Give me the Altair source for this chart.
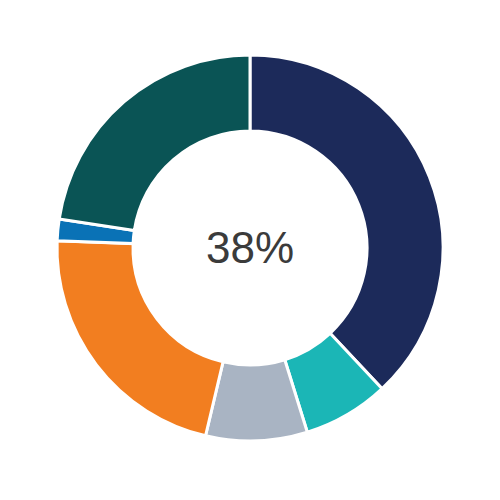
import altair as alt
import pandas as pd

categories = ["A", "B", "C", "D", "E", "F"]
values = [38, 7.2, 8.5, 21.9, 1.8, 22.6]
colors = ["#1c2a5a", "#1bb6b6", "#a9b4c3", "#f27e20", "#0a72b6", "#0a5455"]
center_label = "38%"

df = pd.DataFrame({"cat": categories, "val": values, "ord": list(range(len(values)))})

arcs = alt.Chart(df).mark_arc(outerRadius=193, innerRadius=117, stroke="white", strokeWidth=3).encode(
    theta=alt.Theta("val:Q", stack=True),
    color=alt.Color("cat:N", scale=alt.Scale(domain=categories, range=colors), legend=None),
    order=alt.Order("ord:Q"),
)

text = alt.Chart(pd.DataFrame({"t": [center_label]})).mark_text(
    fontSize=44, font="Liberation Sans", color="#3b3b3b", baseline="middle", align="center", dy=2
).encode(text="t:N")

chart = alt.layer(arcs, text).properties(
    width=484, height=480, padding=0, autosize=alt.AutoSizeParams(type="none")
).configure_view(stroke=None)

chart.save("out.html", embed_options={"renderer": "svg", "actions": False})
